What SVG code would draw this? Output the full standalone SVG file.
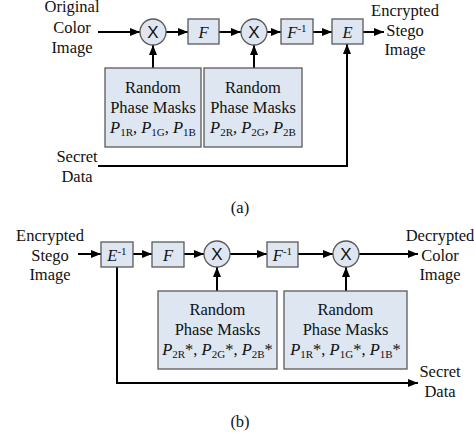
<svg xmlns="http://www.w3.org/2000/svg" width="474" height="446" viewBox="0 0 474 446">
<defs>
<marker id="ah" viewBox="0 0 10 8" refX="10" refY="4" markerWidth="10" markerHeight="8" markerUnits="userSpaceOnUse" orient="auto">
<path d="M0,0 L10,4 L0,8 Z" fill="#000"/>
</marker>
</defs>
<style>
text{font-family:"Liberation Serif","Times New Roman",serif;font-size:16.5px;fill:#111;text-anchor:middle}
.it{font-style:italic}
.sub{font-size:11px;font-style:normal}
.box{fill:#dde6f1;stroke:#5a5a5a;stroke-width:1.3}
.ln{fill:none;stroke:#000;stroke-width:2}
.x{font-family:"Liberation Sans",Arial,sans-serif;font-size:17px}
.cap{font-weight:bold;text-anchor:start}
</style>
<rect width="474" height="446" fill="#fff"/>

<g id="connectors">
<!-- (a) -->
<path class="ln" d="M98,32 H140" marker-end="url(#ah)"/>
<path class="ln" d="M166,32 H188" marker-end="url(#ah)"/>
<path class="ln" d="M219,32 H241" marker-end="url(#ah)"/>
<path class="ln" d="M267,32 H281" marker-end="url(#ah)"/>
<path class="ln" d="M313,32 H332" marker-end="url(#ah)"/>
<path class="ln" d="M363,32 H384" marker-end="url(#ah)"/>
<path class="ln" d="M153,68 V45" marker-end="url(#ah)"/>
<path class="ln" d="M254,68 V45" marker-end="url(#ah)"/>
<path class="ln" d="M98,166 H347 V44" marker-end="url(#ah)"/>
<!-- (b) -->
<path class="ln" d="M78,254 H101" marker-end="url(#ah)"/>
<path class="ln" d="M133,254 H152" marker-end="url(#ah)"/>
<path class="ln" d="M184,254 H204" marker-end="url(#ah)"/>
<path class="ln" d="M230,254 H267" marker-end="url(#ah)"/>
<path class="ln" d="M298,254 H333" marker-end="url(#ah)"/>
<path class="ln" d="M359,254 H418" marker-end="url(#ah)"/>
<path class="ln" d="M217,291 V267" marker-end="url(#ah)"/>
<path class="ln" d="M346,291 V267" marker-end="url(#ah)"/>
<path class="ln" d="M117,267 V383 H418" marker-end="url(#ah)"/>
</g>

<!-- (a) nodes -->
<g id="a-input">
<text x="72" y="12">Original</text>
<text x="72" y="33">Color</text>
<text x="72" y="53">Image</text>
</g>
<g id="a-mult1"><circle class="box" cx="153" cy="32" r="13"/><text class="x" x="153" y="38">X</text></g>
<g id="a-F"><rect class="box" x="188" y="19" width="31" height="25"/><text class="it" x="203.5" y="38">F</text></g>
<g id="a-mult2"><circle class="box" cx="254" cy="32" r="13"/><text class="x" x="254" y="38">X</text></g>
<g id="a-Finv"><rect class="box" x="281" y="19" width="32" height="25"/><text x="297" y="38"><tspan class="it">F</tspan><tspan font-size="11" dy="-6">-1</tspan></text></g>
<g id="a-E"><rect class="box" x="332" y="19" width="31" height="25"/><text class="it" x="347.5" y="38">E</text></g>
<g id="a-output">
<text x="405" y="16">Encrypted</text>
<text x="405" y="36">Stego</text>
<text x="405" y="55">Image</text>
</g>
<g id="a-masks1">
<rect class="box" x="105" y="68" width="96" height="79"/>
<text x="153" y="93">Random</text>
<text x="153" y="113">Phase Masks</text>
<text x="153" y="133"><tspan class="it">P</tspan><tspan class="sub" dy="3">1R</tspan><tspan dy="-3">, </tspan><tspan class="it">P</tspan><tspan class="sub" dy="3">1G</tspan><tspan dy="-3">, </tspan><tspan class="it">P</tspan><tspan class="sub" dy="3">1B</tspan></text>
</g>
<g id="a-masks2">
<rect class="box" x="204" y="68" width="98" height="79"/>
<text x="253" y="93">Random</text>
<text x="253" y="113">Phase Masks</text>
<text x="253" y="133"><tspan class="it">P</tspan><tspan class="sub" dy="3">2R</tspan><tspan dy="-3">, </tspan><tspan class="it">P</tspan><tspan class="sub" dy="3">2G</tspan><tspan dy="-3">, </tspan><tspan class="it">P</tspan><tspan class="sub" dy="3">2B</tspan></text>
</g>
<g id="a-secret">
<text x="77" y="162">Secret</text>
<text x="77" y="182">Data</text>
</g>
<text x="240" y="213">(a)</text>

<!-- (b) nodes -->
<g id="b-input">
<text x="50" y="241">Encrypted</text>
<text x="50" y="261">Stego</text>
<text x="50" y="280">Image</text>
</g>
<g id="b-Einv"><rect class="box" x="101" y="242" width="32" height="25"/><text x="117" y="261"><tspan class="it">E</tspan><tspan font-size="11" dy="-6">-1</tspan></text></g>
<g id="b-F"><rect class="box" x="152" y="242" width="32" height="25"/><text class="it" x="168" y="261">F</text></g>
<g id="b-mult1"><circle class="box" cx="217" cy="254" r="13"/><text class="x" x="217" y="260">X</text></g>
<g id="b-Finv"><rect class="box" x="267" y="242" width="31" height="25"/><text x="282.5" y="261"><tspan class="it">F</tspan><tspan font-size="11" dy="-6">-1</tspan></text></g>
<g id="b-mult2"><circle class="box" cx="346" cy="254" r="13"/><text class="x" x="346" y="260">X</text></g>
<g id="b-output">
<text x="440" y="241">Decrypted</text>
<text x="440" y="261">Color</text>
<text x="440" y="280">Image</text>
</g>
<g id="b-masks1">
<rect class="box" x="158" y="291" width="119" height="78"/>
<text x="217.5" y="315">Random</text>
<text x="217.5" y="335">Phase Masks</text>
<text x="217.5" y="355"><tspan class="it">P</tspan><tspan class="sub" dy="3">2R</tspan><tspan dy="-3">*, </tspan><tspan class="it">P</tspan><tspan class="sub" dy="3">2G</tspan><tspan dy="-3">*, </tspan><tspan class="it">P</tspan><tspan class="sub" dy="3">2B</tspan><tspan dy="-3">*</tspan></text>
</g>
<g id="b-masks2">
<rect class="box" x="284" y="291" width="123" height="78"/>
<text x="345.5" y="315">Random</text>
<text x="345.5" y="335">Phase Masks</text>
<text x="345.5" y="355"><tspan class="it">P</tspan><tspan class="sub" dy="3">1R</tspan><tspan dy="-3">*, </tspan><tspan class="it">P</tspan><tspan class="sub" dy="3">1G</tspan><tspan dy="-3">*, </tspan><tspan class="it">P</tspan><tspan class="sub" dy="3">1B</tspan><tspan dy="-3">*</tspan></text>
</g>
<g id="b-secret">
<text x="440" y="377">Secret</text>
<text x="440" y="397">Data</text>
</g>
<text x="240" y="427">(b)</text>
</svg>
